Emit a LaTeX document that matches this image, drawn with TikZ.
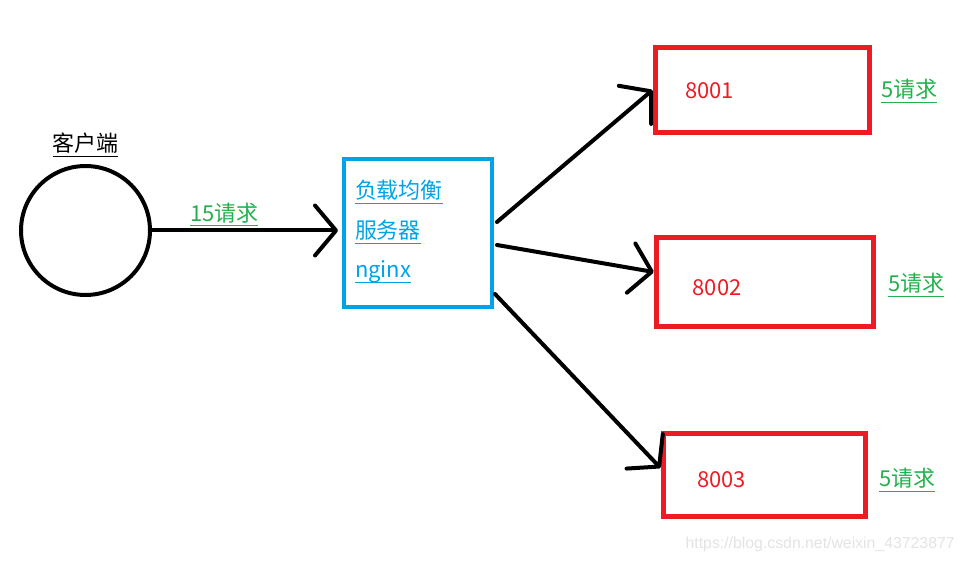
\documentclass[tikz,border=0pt]{standalone}
\usepackage{fontspec}
\setmainfont{Noto Sans CJK SC}
\newfontfamily\wmfont{Liberation Sans}
\usetikzlibrary{arrows.meta,calc,positioning}
\definecolor{PaintRed}{HTML}{ED1C24}
\definecolor{PaintBlue}{HTML}{00A2E8}
\definecolor{PaintGreen}{HTML}{22B14C}
\newcommand{\undl}[1]{\leavevmode\setbox0\hbox{#1}\rlap{\rule[-3pt]{\wd0}{0.7pt}}\box0}

\begin{document}
\begin{tikzpicture}[x=0.02cm,y=-0.02cm,
        font=\fontsize{12.5}{15}\selectfont,
        cl/.style={circle,draw,line width=0.08cm,minimum size=2.58cm,inner sep=0},
        lb/.style={draw=PaintBlue,line width=0.08cm,minimum width=2.96cm,minimum height=2.96cm,
          text width=2.52cm,inner xsep=0.22cm,align=left,text=PaintBlue,font=\fontsize{12.5}{22.8}\selectfont},
        srv/.style={draw=PaintRed,line width=0.1cm,align=left,text=PaintRed},
        req/.style={text=PaintGreen,inner sep=0},
        arr/.style={-{Straight Barb[length=0.42cm,width=1.0cm,round]},line width=0.08cm,line cap=round}]
        \useasboundingbox (0,0) rectangle (963,563);
        \node[cl] (client) at (85.5,230.5) {};
        \node[above=0.13cm of client,inner sep=0] (clientlbl) {\undl{客户端}};
        \node[lb] (lb) at (418,233) {\raisebox{0.05cm}[\height][\depth]{\undl{负载均衡}}\\[-0.05cm]\undl{服务器}\\[-0.03cm]\undl{nginx}};
        \node[srv,minimum width=4.3cm,minimum height=1.72cm,inner xsep=0.6cm,text width=3.1cm] (s1) at (762.5,90) {\raisebox{-0.02cm}[\height][\depth]{8001}};
        \node[srv,minimum width=4.35cm,minimum height=1.8cm,inner xsep=0.73cm,text width=2.89cm] (s2) at (765,282) {\raisebox{-0.11cm}[\height][\depth]{8002}};
        \node[srv,minimum width=4.06cm,minimum height=1.68cm,inner xsep=0.68cm,text width=2.7cm] (s3) at (764.5,475) {\raisebox{-0.09cm}[\height][\depth]{8003}};
        \node[req,right=0.17cm of s1,yshift=-0.02cm] (r1) {\undl{5请求}};
        \node[req,right=0.23cm of s2,yshift=-0.06cm] (r2) {\undl{5请求}};
        \node[req,right=0.21cm of s3,yshift=-0.1cm] (r3) {\undl{5请求}};
        \draw[arr,shorten >=0.08cm] (client) -- (client -| lb.west)
          node[req,pos=0.38,above=0.04cm] (r0) {\undl{15请求}};
        \draw[arr] ($(lb.east)+(3,-11)$) -- (s1.west);
        \draw[arr] ($(lb.east)+(3,12)$) -- ($(s2.west)+(0,-10)$);
        \draw[arr] ($(lb.east)+(1,61)$) -- ($(s3.west)+(0,-7)$);
        \node[anchor=east,inner sep=0,text=black!11,font=\wmfont\fontsize{9}{11}\selectfont] (wm) at (955,544) {https://blog.csdn.net/weixin\_43723877};
      \end{tikzpicture}
\end{document}
